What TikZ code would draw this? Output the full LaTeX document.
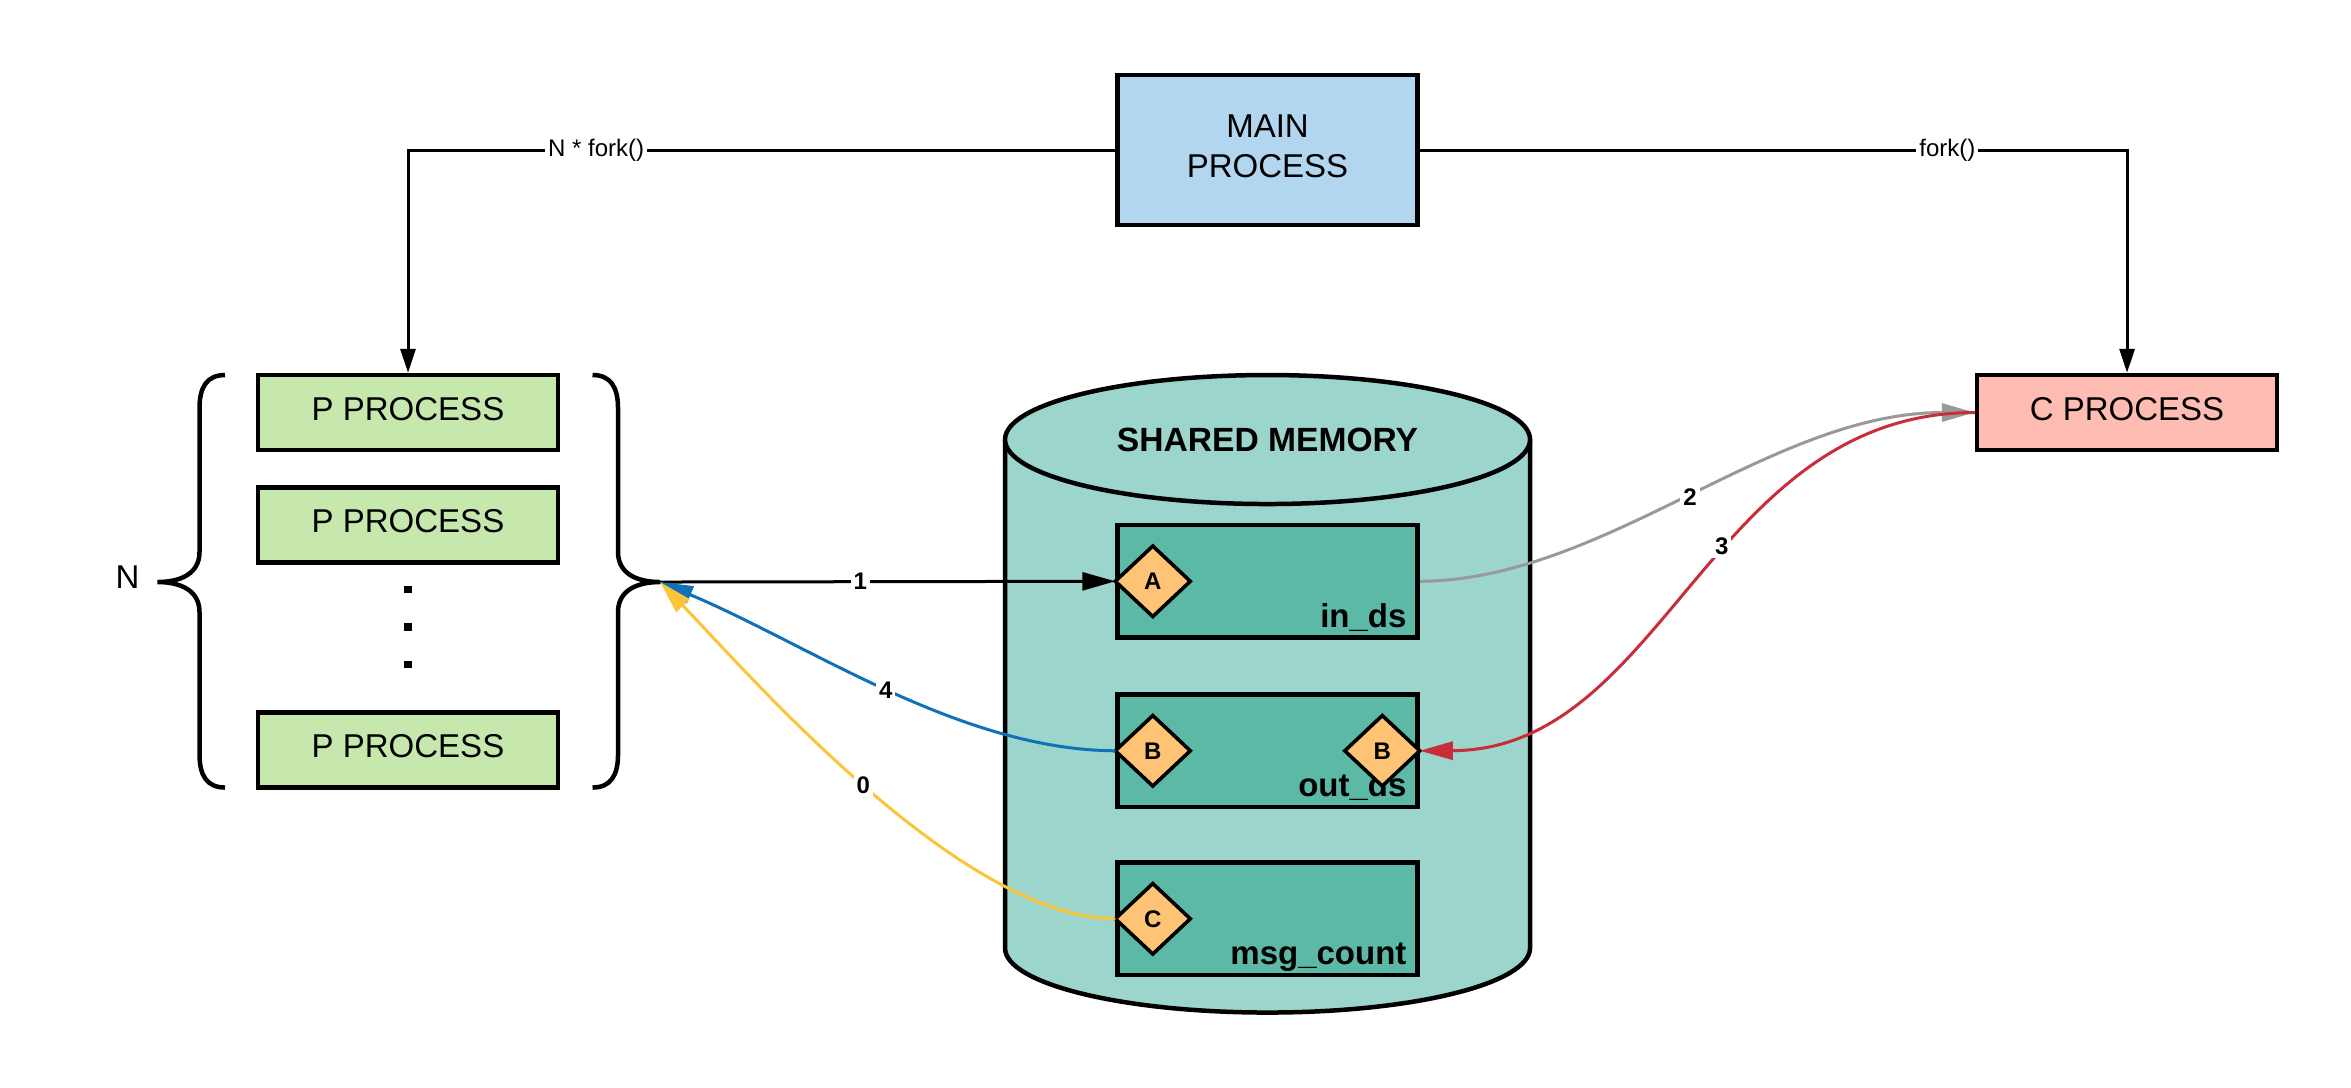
\documentclass[tikz,border=0pt]{standalone}
\usepackage{fontspec}
\setmainfont{Liberation Sans}
\usetikzlibrary{shapes.geometric,arrows.meta}
\definecolor{mainblue}{HTML}{B3D6F0}
\definecolor{pgreen}{HTML}{C6E8AD}
\definecolor{cpink}{HTML}{FFBCB3}
\definecolor{cyl}{HTML}{9BD5CC}
\definecolor{innerteal}{HTML}{5BB9A6}
\definecolor{portorange}{HTML}{FFC375}
\definecolor{cgray}{HTML}{999999}
\definecolor{cred}{HTML}{C92D39}
\definecolor{cblue}{HTML}{1071B9}
\definecolor{cyellow}{HTML}{FCC438}
\begin{document}
\begin{tikzpicture}[x=0.5pt,y=-0.5pt,
  box/.style={draw, line width=1.5pt, minimum width=100pt, minimum height=25pt, inner sep=0pt, text height=8pt, text depth=3pt, font=\fontsize{11}{13.5}\selectfont, align=center},
  membox/.style={draw, line width=1.5pt, fill=innerteal, minimum width=100pt, minimum height=37.5pt, inner sep=0pt},
  portd/.style={diamond, draw, line width=1.2pt, fill=portorange, minimum width=25pt, minimum height=23.5pt, inner sep=0pt, outer sep=0pt, font=\bfseries\fontsize{8}{9}\selectfont},
  conn/.style={line width=1pt},
  forktip/.style={-{Triangle[length=8pt,width=5pt]}},
  bigtip/.style={-{Triangle[length=11pt,width=6pt]}},
  lbl/.style={fill=white, text=black, inner sep=1pt, font=\fontsize{8}{9}\selectfont},
  num/.style={fill=white, text=black, inner sep=1pt, font=\bfseries\fontsize{8}{9}\selectfont},
  memlbl/.style={inner sep=0pt, font=\bfseries\fontsize{11}{13}\selectfont, anchor=base east},
  sqdot/.style={rectangle, fill=black, minimum size=2.6pt, inner sep=0pt},
  brace/.style={line width=1.5pt}
]
\useasboundingbox (0,0) rectangle (1567.3,725.3);

% cylinder (shared memory)
\filldraw[fill=cyl, line width=1.5pt] (670,293) -- (670,632)
  .. controls (670,655.7) and (748.3,675) .. (845,675)
  .. controls (941.7,675) and (1020,655.7) .. (1020,632) -- (1020,293);
\filldraw[fill=cyl, line width=1.5pt] (670,293)
  .. controls (670,269.3) and (748.3,250) .. (845,250)
  .. controls (941.7,250) and (1020,269.3) .. (1020,293)
  .. controls (1020,316.7) and (941.7,336) .. (845,336)
  .. controls (748.3,336) and (670,316.7) .. (670,293);
\node[font=\bfseries\fontsize{11.2}{12}\selectfont] (shm) at (845,293) {SHARED MEMORY};

% processes
\node[box, fill=mainblue, minimum height=50pt, text height=21.5pt, text depth=3pt] (main) at (845,100) {MAIN\\PROCESS};
\node[box, fill=pgreen] (p1) at (272,275) {P PROCESS};
\node[box, fill=pgreen] (p2) at (272,350) {P PROCESS};
\node[box, fill=pgreen] (p3) at (272,500) {P PROCESS};
\node[box, fill=cpink] (cp) at (1418,275) {C PROCESS};

\node[sqdot] (d1) at (272,393) {};
\node[sqdot] (d2) at (272,418) {};
\node[sqdot] (d3) at (272,443) {};

% braces
\coordinate (lt) at (105,388);
\coordinate (rt) at (440,388);
\draw[brace] (150,250) .. controls (138,250) and (133,258) .. (133,272) -- (133,368)
  .. controls (133,382) and (121,388) .. (lt)
  .. controls (121,388) and (133,394) .. (133,408) -- (133,503)
  .. controls (133,517) and (138,525) .. (150,525);
\draw[brace] (395,250) .. controls (407,250) and (412,258) .. (412,272) -- (412,368)
  .. controls (412,382) and (424,388) .. (rt)
  .. controls (424,388) and (412,394) .. (412,408) -- (412,503)
  .. controls (412,517) and (407,525) .. (395,525);
\node[font=\fontsize{11}{13}\selectfont] (nlab) at (85,385) {N};

% memory structures
\node[membox] (inds) at (845,387.5) {};
\node[membox] (outds) at (845,500.5) {};
\node[membox] (msg) at (845,612.5) {};
\node[memlbl] (indsl) at (938,418) {in\_ds};
\node[memlbl] (outdsl) at (938,531) {out\_ds};
\node[memlbl] (msgl) at (938,643) {msg\_count};
\node[portd, anchor=west] (pa) at (inds.west) {A};
\node[portd, anchor=west] (pb1) at (outds.west) {B};
\node[portd, anchor=east] (pb2) at (outds.east) {B};
\node[portd, anchor=west] (pc) at (msg.west) {C};

% fork connectors
\draw[conn, forktip] (main.west) -| node[lbl, pos=0.367] (fl1) {N * fork()} (p1.north);
\draw[conn, forktip] (main.east) -| node[lbl, pos=0.373] (fl2) {fork()} (cp.north);

% data flow
\draw[conn, bigtip] (rt) -- node[num, pos=0.44] (n1) {1} (pa.west);
\draw[conn, cgray, bigtip] (inds.east) .. controls (1070,387) and (1180,275) .. node[num, pos=0.5] (n2) {2} (cp.west);
\draw[conn, cred, bigtip] (cp.west) .. controls (1140,275) and (1110,500) .. node[num, pos=0.43] (n3) {3} (pb2.east);
\draw[conn, cblue, bigtip] (pb1.west) .. controls (640,500) and (540,430) .. node[num, pos=0.5] (n4) {4} (rt);
\draw[conn, cyellow, bigtip] (pc.west) .. controls (640,612) and (500,450) .. node[num, pos=0.5] (n0) {0} (rt);
\end{tikzpicture}
\end{document}
